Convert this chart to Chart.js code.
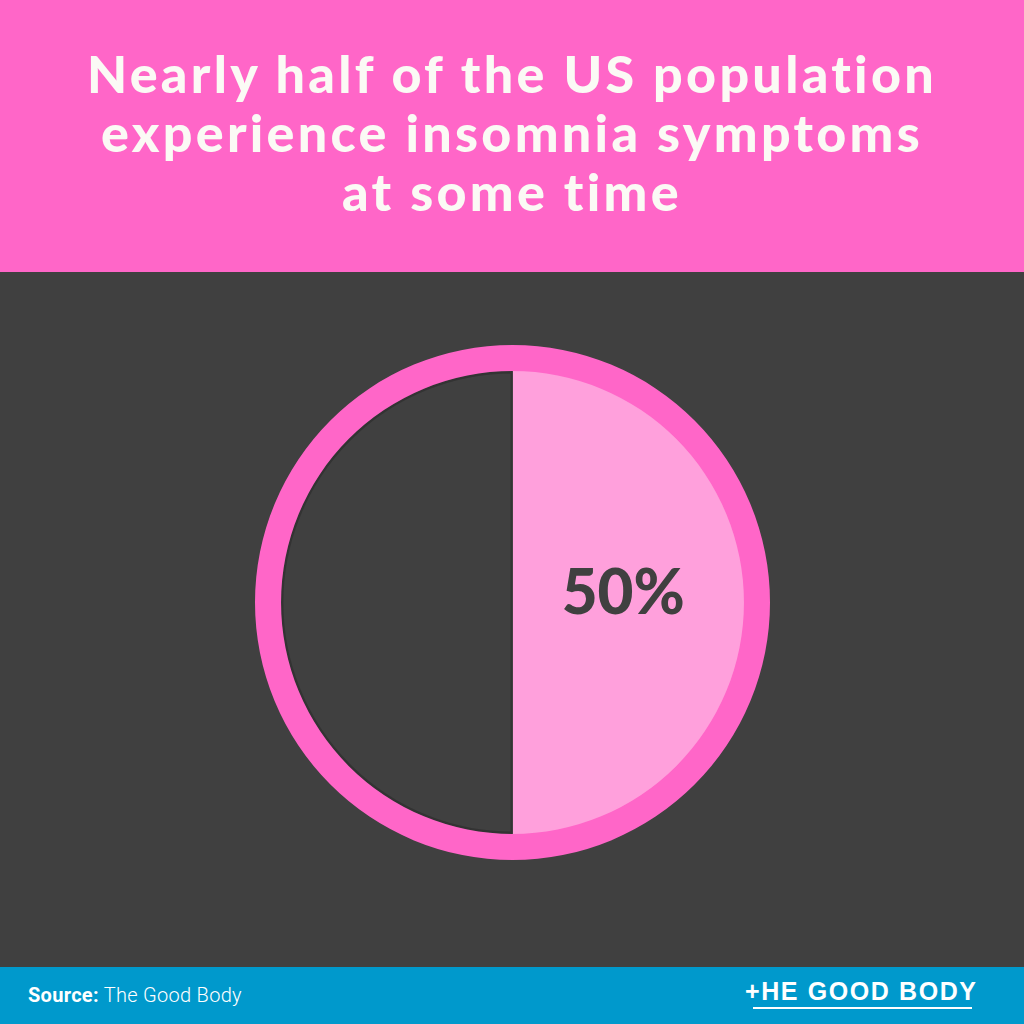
<!DOCTYPE html>
<html lang="en">
<head>
    <meta charset="UTF-8">
    <title>Insomnia symptoms</title>
    <script src="https://cdn.jsdelivr.net/npm/chart.js"></script>
    <style>
        html, body { margin: 0; padding: 0; }
        body { width: 1024px; height: 1024px; position: relative; overflow: hidden; background: #404040; font-family: Lato, "Open Sans", sans-serif; }
        .header { position: absolute; left: 0; top: 0; width: 1024px; height: 272px; background: #ff66c8; }
        .header h1 { margin: 0; position: absolute; left: 0; width: 1024px; top: 44px; text-align: center; color: #fbfaf5; font-size: 52px; line-height: 59px; font-weight: 900; letter-spacing: 3.3px; }
        .chart-box { position: absolute; left: 255px; top: 345px; width: 515px; height: 515px; }
        .footer { position: absolute; left: 0; top: 967px; width: 1024px; height: 57px; background: #0099cc; color: #fff; }
        .source { position: absolute; left: 28px; top: 16px; font-family: Roboto, sans-serif; font-size: 20px; font-weight: 300; letter-spacing: 0.3px; }
        .source b { font-weight: 700; }
        .logo { position: absolute; left: 745px; top: 10px; font-family: "Liberation Sans", Arial, sans-serif; font-weight: 700; font-size: 25px; letter-spacing: 1.6px; }
        .logo::after { content: ""; position: absolute; left: 8px; right: 6px; top: 30px; height: 2px; background: #fff; }
    </style>
</head>
<body>
    <div class="header">
        <h1>Nearly half of the US population<br>experience insomnia symptoms<br>at some time</h1>
    </div>

    <div class="chart-box">
        <canvas id="pieChart"></canvas>
    </div>

    <div class="footer">
        <div class="source"><b>Source:</b> The Good Body</div>
        <div class="logo">+HE GOOD BODY</div>
    </div>

    <script>
        const categories = ['Experience insomnia symptoms', 'Do not'];
        const shares = [50, 50];
        const ringValues = [100];

        // text in the pink half
        const shareLabel = {
            id: 'shareLabel',
            afterDatasetsDraw(chart) {
                const arc = chart.getDatasetMeta(1).data[0];
                const pos = arc.tooltipPosition();
                const ctx = chart.ctx;
                ctx.save();
                ctx.fillStyle = '#404040';
                ctx.font = '900 62px Lato, "Open Sans", sans-serif';
                ctx.textAlign = 'center';
                ctx.textBaseline = 'middle';
                ctx.fillText(shares[0] + '%', pos.x - 5, pos.y - 9);
                ctx.restore();
            }
        };

        new Chart(document.getElementById('pieChart'), {
            type: 'doughnut',
            data: {
                labels: categories,
                datasets: [
                    {
                        data: ringValues,
                        backgroundColor: ['#ff66c8'],
                        borderWidth: 0,
                        weight: 26
                    },
                    {
                        data: shares,
                        backgroundColor: ['#ffa0dc', '#404040'],
                        borderColor: ['#ffa0dc', '#333333'],
                        borderWidth: [2, 2],
                        borderAlign: ['center', 'inner'],
                        weight: 231
                    }
                ]
            },
            options: {
                responsive: true,
                maintainAspectRatio: false,
                cutout: 0,
                animation: false,
                layout: { padding: 0 },
                plugins: {
                    legend: { display: false },
                    tooltip: { enabled: false }
                }
            },
            plugins: [shareLabel]
        });
    </script>
</body>
</html>
